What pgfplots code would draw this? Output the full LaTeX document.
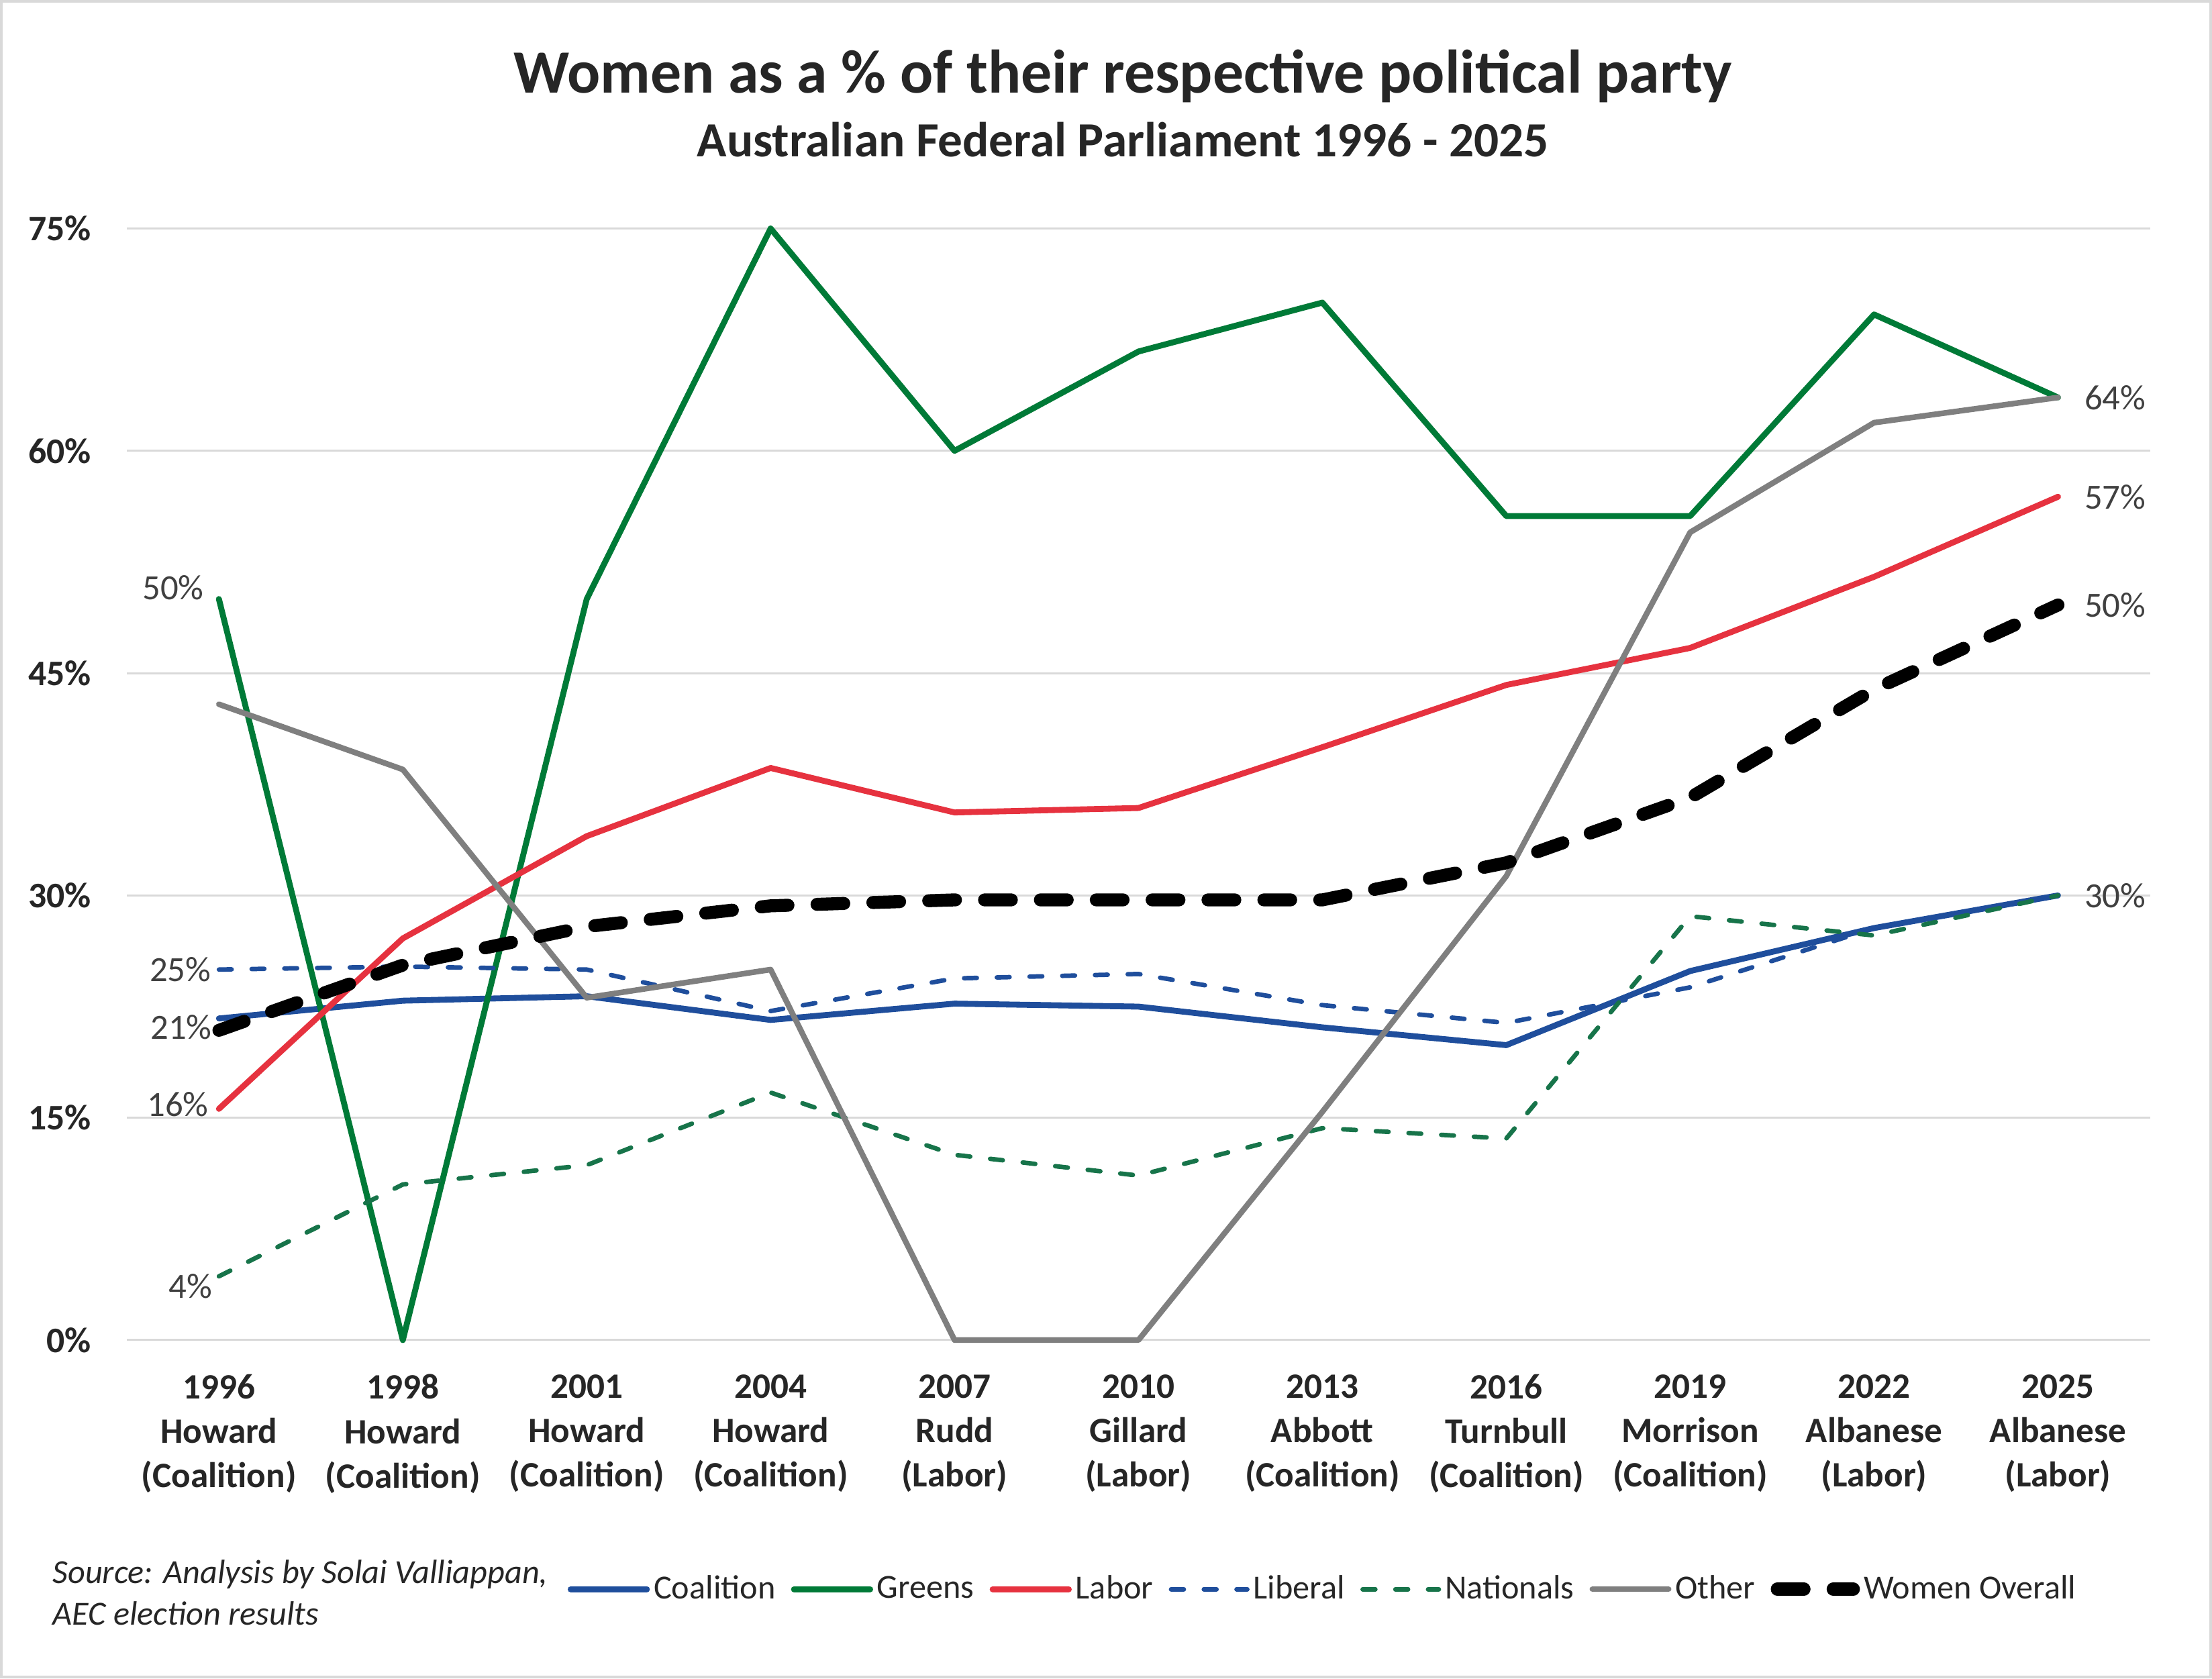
\documentclass[border=0pt]{standalone}
\usepackage{pgfplots}
\pgfplotsset{compat=1.18}
\usepackage{fontspec}
\setmainfont{Carlito}
\definecolor{coal}{HTML}{1F4E9C}
\definecolor{grn}{HTML}{007A37}
\definecolor{lab}{HTML}{E6323F}
\definecolor{nat}{HTML}{17744A}
\definecolor{oth}{HTML}{7F7F7F}
\definecolor{txt}{HTML}{262626}
\definecolor{lbl}{HTML}{404040}
\definecolor{grd}{HTML}{D9D9D9}
\begin{document}
\begin{tikzpicture}
\path[use as bounding box] (0,0) rectangle (784bp,595bp);
\draw[grd, line width=1bp] (0.5bp,0.5bp) rectangle (783.5bp,594.5bp);
\node[anchor=base, font=\fontsize{21.9}{26}\selectfont\bfseries, text=txt, inner sep=0pt] at (398bp,562bp) {Women as a \% of their respective political party};
\node[anchor=base, font=\fontsize{17.5}{21}\selectfont\bfseries, text=txt, inner sep=0pt] at (398bp,539.5bp) {Australian Federal Parliament 1996 - 2025};
\node[anchor=base west, font=\fontsize{12}{14.6}\selectfont\itshape, text=txt, inner sep=0pt] at (18.5bp,33.7bp) {Source: Analysis by Solai Valliappan,};
\node[anchor=base west, font=\fontsize{12}{14.6}\selectfont\itshape, text=txt, inner sep=0pt] at (18.5bp,19.1bp) {AEC election results};
\begin{axis}[
  at={(45bp,120bp)}, anchor=south west,
  scale only axis, width=717bp, height=394bp,
  xmin=-0.5, xmax=10.5, ymin=0, ymax=75,
  clip=false,
  axis line style={draw=none},
  major tick length=0pt,
  ytick={0,15,30,45,60,75},
  yticklabels={0\%,15\%,30\%,45\%,60\%,75\%},
  yticklabel style={font=\fontsize{12.8}{15}\selectfont\bfseries, text=txt, inner sep=0pt, xshift=-12.5bp},
  ymajorgrids, grid style={grd, line width=0.7bp},
  xtick={0,...,10},
  xticklabels={{1996\\Howard\\(Coalition)},{1998\\Howard\\(Coalition)},{2001\\Howard\\(Coalition)},{2004\\Howard\\(Coalition)},{2007\\Rudd\\(Labor)},{2010\\Gillard\\(Labor)},{2013\\Abbott\\(Coalition)},{2016\\Turnbull\\(Coalition)},{2019\\Morrison\\(Coalition)},{2022\\Albanese\\(Labor)},{2025\\Albanese\\(Labor)}},
  xticklabel style={align=center, font=\fontsize{12.7}{15.8}\selectfont\bfseries, text=txt, inner sep=0pt, anchor=north, yshift=-12bp},
  legend columns=-1,
  legend style={at={(axis description cs:0.2176,-0.2241)}, anchor=west, draw=none, fill=none, inner sep=0pt,
    font=\fontsize{12}{14}\selectfont, text=txt,
    nodes={inner sep=1.4bp},
    /tikz/every even column/.append style={column sep=4.1bp}},
  legend image code/.code={\draw[#1] (0bp,0bp) -- (27bp,0bp);},
  every axis plot/.append style={line join=round, line cap=round},
]
\addplot[coal, line width=2.1bp] coordinates {(0,21.7) (1,22.9) (2,23.2) (3,21.6) (4,22.7) (5,22.5) (6,21.1) (7,19.9) (8,24.9) (9,27.8) (10,30.0)};
\addlegendentry{Coalition}
\addplot[grn, line width=2.1bp] coordinates {(0,50) (1,0) (2,50) (3,75) (4,60) (5,66.7) (6,70) (7,55.6) (8,55.6) (9,69.2) (10,63.6)};
\addlegendentry{Greens}
\addplot[lab, line width=2.1bp] coordinates {(0,15.6) (1,27.1) (2,34.0) (3,38.6) (4,35.6) (5,35.9) (6,40.0) (7,44.2) (8,46.7) (9,51.5) (10,56.9)};
\addlegendentry{Labor}
\addplot[coal, line width=1.6bp, dash pattern=on 4.5bp off 7.1bp] coordinates {(0,25.0) (1,25.2) (2,25.0) (3,22.2) (4,24.4) (5,24.7) (6,22.6) (7,21.4) (8,23.8) (9,27.8) (10,30.0)};
\addlegendentry{Liberal}
\addplot[nat, line width=1.6bp, dash pattern=on 4.5bp off 7.1bp] coordinates {(0,4.3) (1,10.5) (2,11.8) (3,16.7) (4,12.5) (5,11.1) (6,14.3) (7,13.6) (8,28.6) (9,27.3) (10,30.0)};
\addlegendentry{Nationals}
\addplot[oth, line width=2.0bp] coordinates {(0,42.9) (1,38.5) (2,23.1) (3,25.0) (4,0) (5,0) (6,15.4) (7,31.3) (8,54.5) (9,61.9) (10,63.6)};
\addlegendentry{Other}
\addplot[black, line width=4.6bp, dash pattern=on 9.5bp off 10.3bp] coordinates {(0,20.9) (1,25.3) (2,27.9) (3,29.3) (4,29.7) (5,29.7) (6,29.7) (7,32.2) (8,36.6) (9,43.9) (10,49.6)};
\addlegendentry{Women Overall}
\begin{scope}[font=\fontsize{12.6}{15}\selectfont, text=lbl, inner sep=0pt]
\node[anchor=east] at (axis cs:0,50) [xshift=-5.2bp, yshift=4bp] {50\%};
\node[anchor=east] at (axis cs:0,25) [xshift=-2.6bp] {25\%};
\node[anchor=east] at (axis cs:0,20.9) [xshift=-2.3bp, yshift=1bp] {21\%};
\node[anchor=east] at (axis cs:0,15.6) [xshift=-3.5bp, yshift=1.5bp] {16\%};
\node[anchor=east] at (axis cs:0,4.3) [xshift=-2.2bp, yshift=-3.5bp] {4\%};
\node[anchor=west] at (axis cs:10,63.6) [xshift=9.2bp] {64\%};
\node[anchor=west] at (axis cs:10,56.9) [xshift=9.2bp] {57\%};
\node[anchor=west] at (axis cs:10,49.6) [xshift=9.2bp] {50\%};
\node[anchor=west] at (axis cs:10,30.0) [xshift=9.2bp] {30\%};
\end{scope}
\end{axis}
\end{tikzpicture}
\end{document}
